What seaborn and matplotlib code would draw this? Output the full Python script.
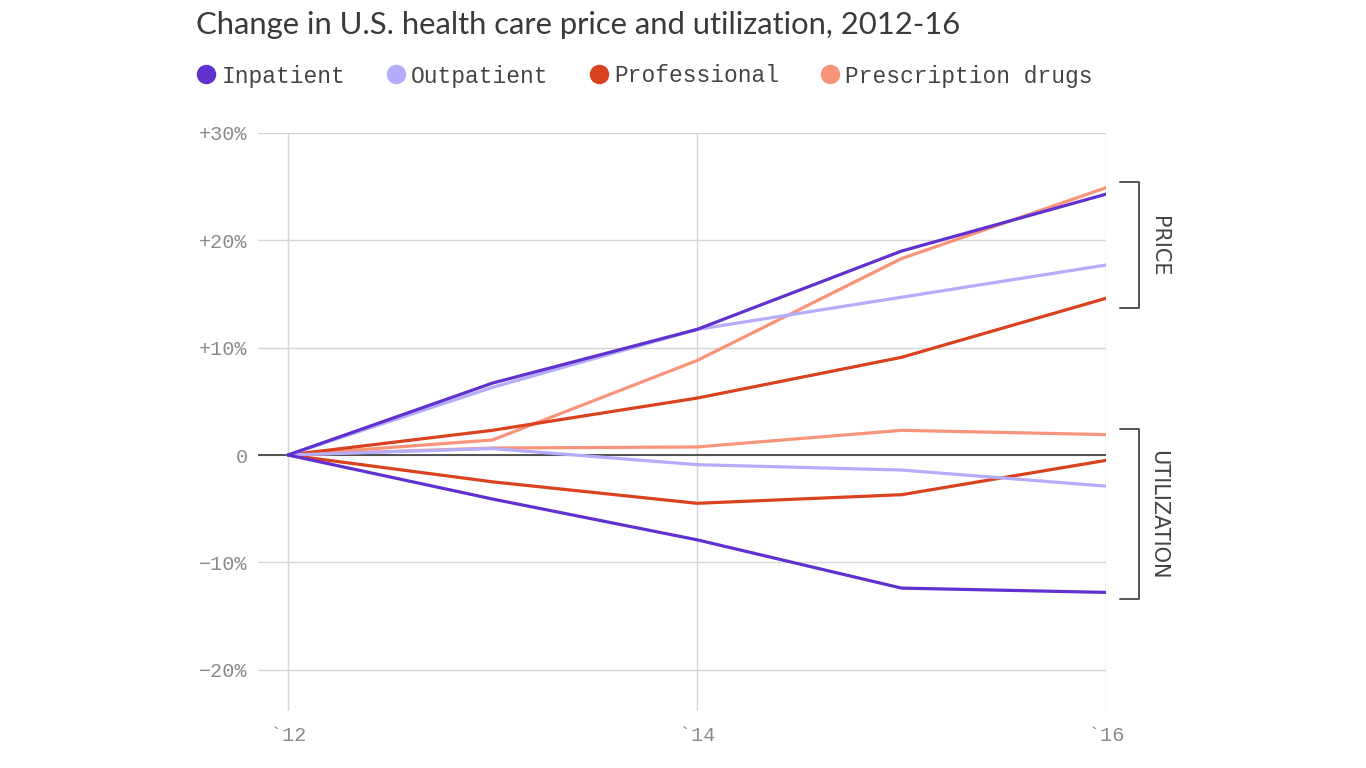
import seaborn as sns
import numpy as np
import matplotlib.pyplot as plt
import pandas as pd
from matplotlib.lines import Line2D

years = [2012, 2013, 2014, 2015, 2016]
categories = ['Inpatient', 'Outpatient', 'Professional', 'Prescription drugs']

# percent change since 2012
price = {
    'Inpatient':          [0, 6.7, 11.7, 19.0, 24.3],
    'Outpatient':         [0, 6.3, 11.7, 14.7, 17.7],
    'Professional':       [0, 2.3, 5.3, 9.1, 14.6],
    'Prescription drugs': [0, 1.4, 8.8, 18.3, 24.9],
}
utilization = {
    'Inpatient':          [0, -4.1, -7.9, -12.4, -12.8],
    'Outpatient':         [0, 0.6, -0.9, -1.4, -2.9],
    'Professional':       [0, -2.5, -4.5, -3.7, -0.5],
    'Prescription drugs': [0, 0.65, 0.75, 2.3, 1.9],
}
yticks = [-20, -10, 0, 10, 20, 30]
ytick_labels = ['\u221220%', '\u221210%', '0', '+10%', '+20%', '+30%']
xticks = [2012, 2014, 2016]
xtick_labels = ['`12', '`14', '`16']

colors = {'Inpatient': '#6031cf', 'Outpatient': '#b5acfb',
          'Professional': '#da421f', 'Prescription drugs': '#f8947a'}

rows = []
for measure, table in [('price', price), ('utilization', utilization)]:
    for cat in categories:
        for yr, v in zip(years, table[cat]):
            rows.append({'year': yr, 'change': v, 'category': cat, 'measure': measure,
                         'series': cat + measure})
df = pd.DataFrame(rows)

sns.set_style('white')
plt.rcParams['font.family'] = ['Lato', 'DejaVu Sans']
mono = 'Liberation Mono'
grey = '#8a8a8a'

fig = plt.figure(figsize=(13.66, 7.68), dpi=100)
ax = fig.add_axes([258 / 1366, 1 - 711 / 768, 848 / 1366, 578 / 768])

# gridlines
for yt in yticks:
    ax.axhline(yt, color='#d6d6d6', lw=1, zorder=0)
for xt in xticks:
    ax.axvline(xt, color='#d6d6d6', lw=1, zorder=0)
ax.axhline(0, color='#444444', lw=1.3, zorder=1)

# lighter colours first so the darker lines sit on top
order = ['Prescription drugs', 'Professional', 'Outpatient', 'Inpatient']
df['order'] = df['category'].map({c: i for i, c in enumerate(order)})
df = df.sort_values(['measure', 'order'], ascending=[False, True])
sns.lineplot(data=df, x='year', y='change', hue='category', units='series',
             estimator=None, palette=colors, hue_order=order, lw=2.3,
             legend=False, ax=ax, sort=False, zorder=3)

ax.set_xlim(2012 - 30 / 204.5, 2016)
ax.set_ylim(-23.85, 30)
ax.set_yticks(yticks)
ax.set_yticklabels(ytick_labels)
ax.set_xticks(xticks)
ax.set_xticklabels(xtick_labels)
ax.tick_params(axis='y', length=0, pad=7.5, labelsize=14.5, labelcolor=grey)
ax.tick_params(axis='x', length=0, pad=11, labelsize=14.5, labelcolor=grey)
for lab in ax.get_xticklabels() + ax.get_yticklabels():
    lab.set_fontfamily(mono)
sns.despine(ax=ax, left=True, bottom=True)
ax.set_xlabel('')
ax.set_ylabel('')

# brackets
trans = ax.get_yaxis_transform()
for lo, hi, label in [(13.7, 25.4, 'PRICE'), (-13.4, 2.4, 'UTILIZATION')]:
    ax.plot([1.0165, 1.039, 1.039, 1.0165], [hi, hi, lo, lo], transform=trans,
            color='#555555', lw=1.4, clip_on=False)
    ax.text(1.062, (lo + hi) / 2 - 0.1, label, transform=trans, rotation=-90,
            ha='center', va='center', fontsize=15, color='#444444', clip_on=False,
            family='DejaVu Sans')

# title
fig.text(196 / 1366, 1 - 25 / 768, 'Change in U.S. health care price and utilization, 2012-16',
         fontsize=22.3, color='#3a3a3a', ha='left', va='center')

# legend
handles = [Line2D([], [], marker='o', ls='', ms=13, color=colors[c]) for c in categories]
leg = fig.legend(handles, categories, loc='center left', ncol=4,
                 bbox_to_anchor=(172 / 1366, 1 - 76 / 768), frameon=False,
                 handletextpad=0.05, columnspacing=1.62, handlelength=1.2,
                 prop={'family': mono, 'size': 16.5})
for t in leg.get_texts():
    t.set_color('#444444')

fig.savefig('out.png', dpi=100)
